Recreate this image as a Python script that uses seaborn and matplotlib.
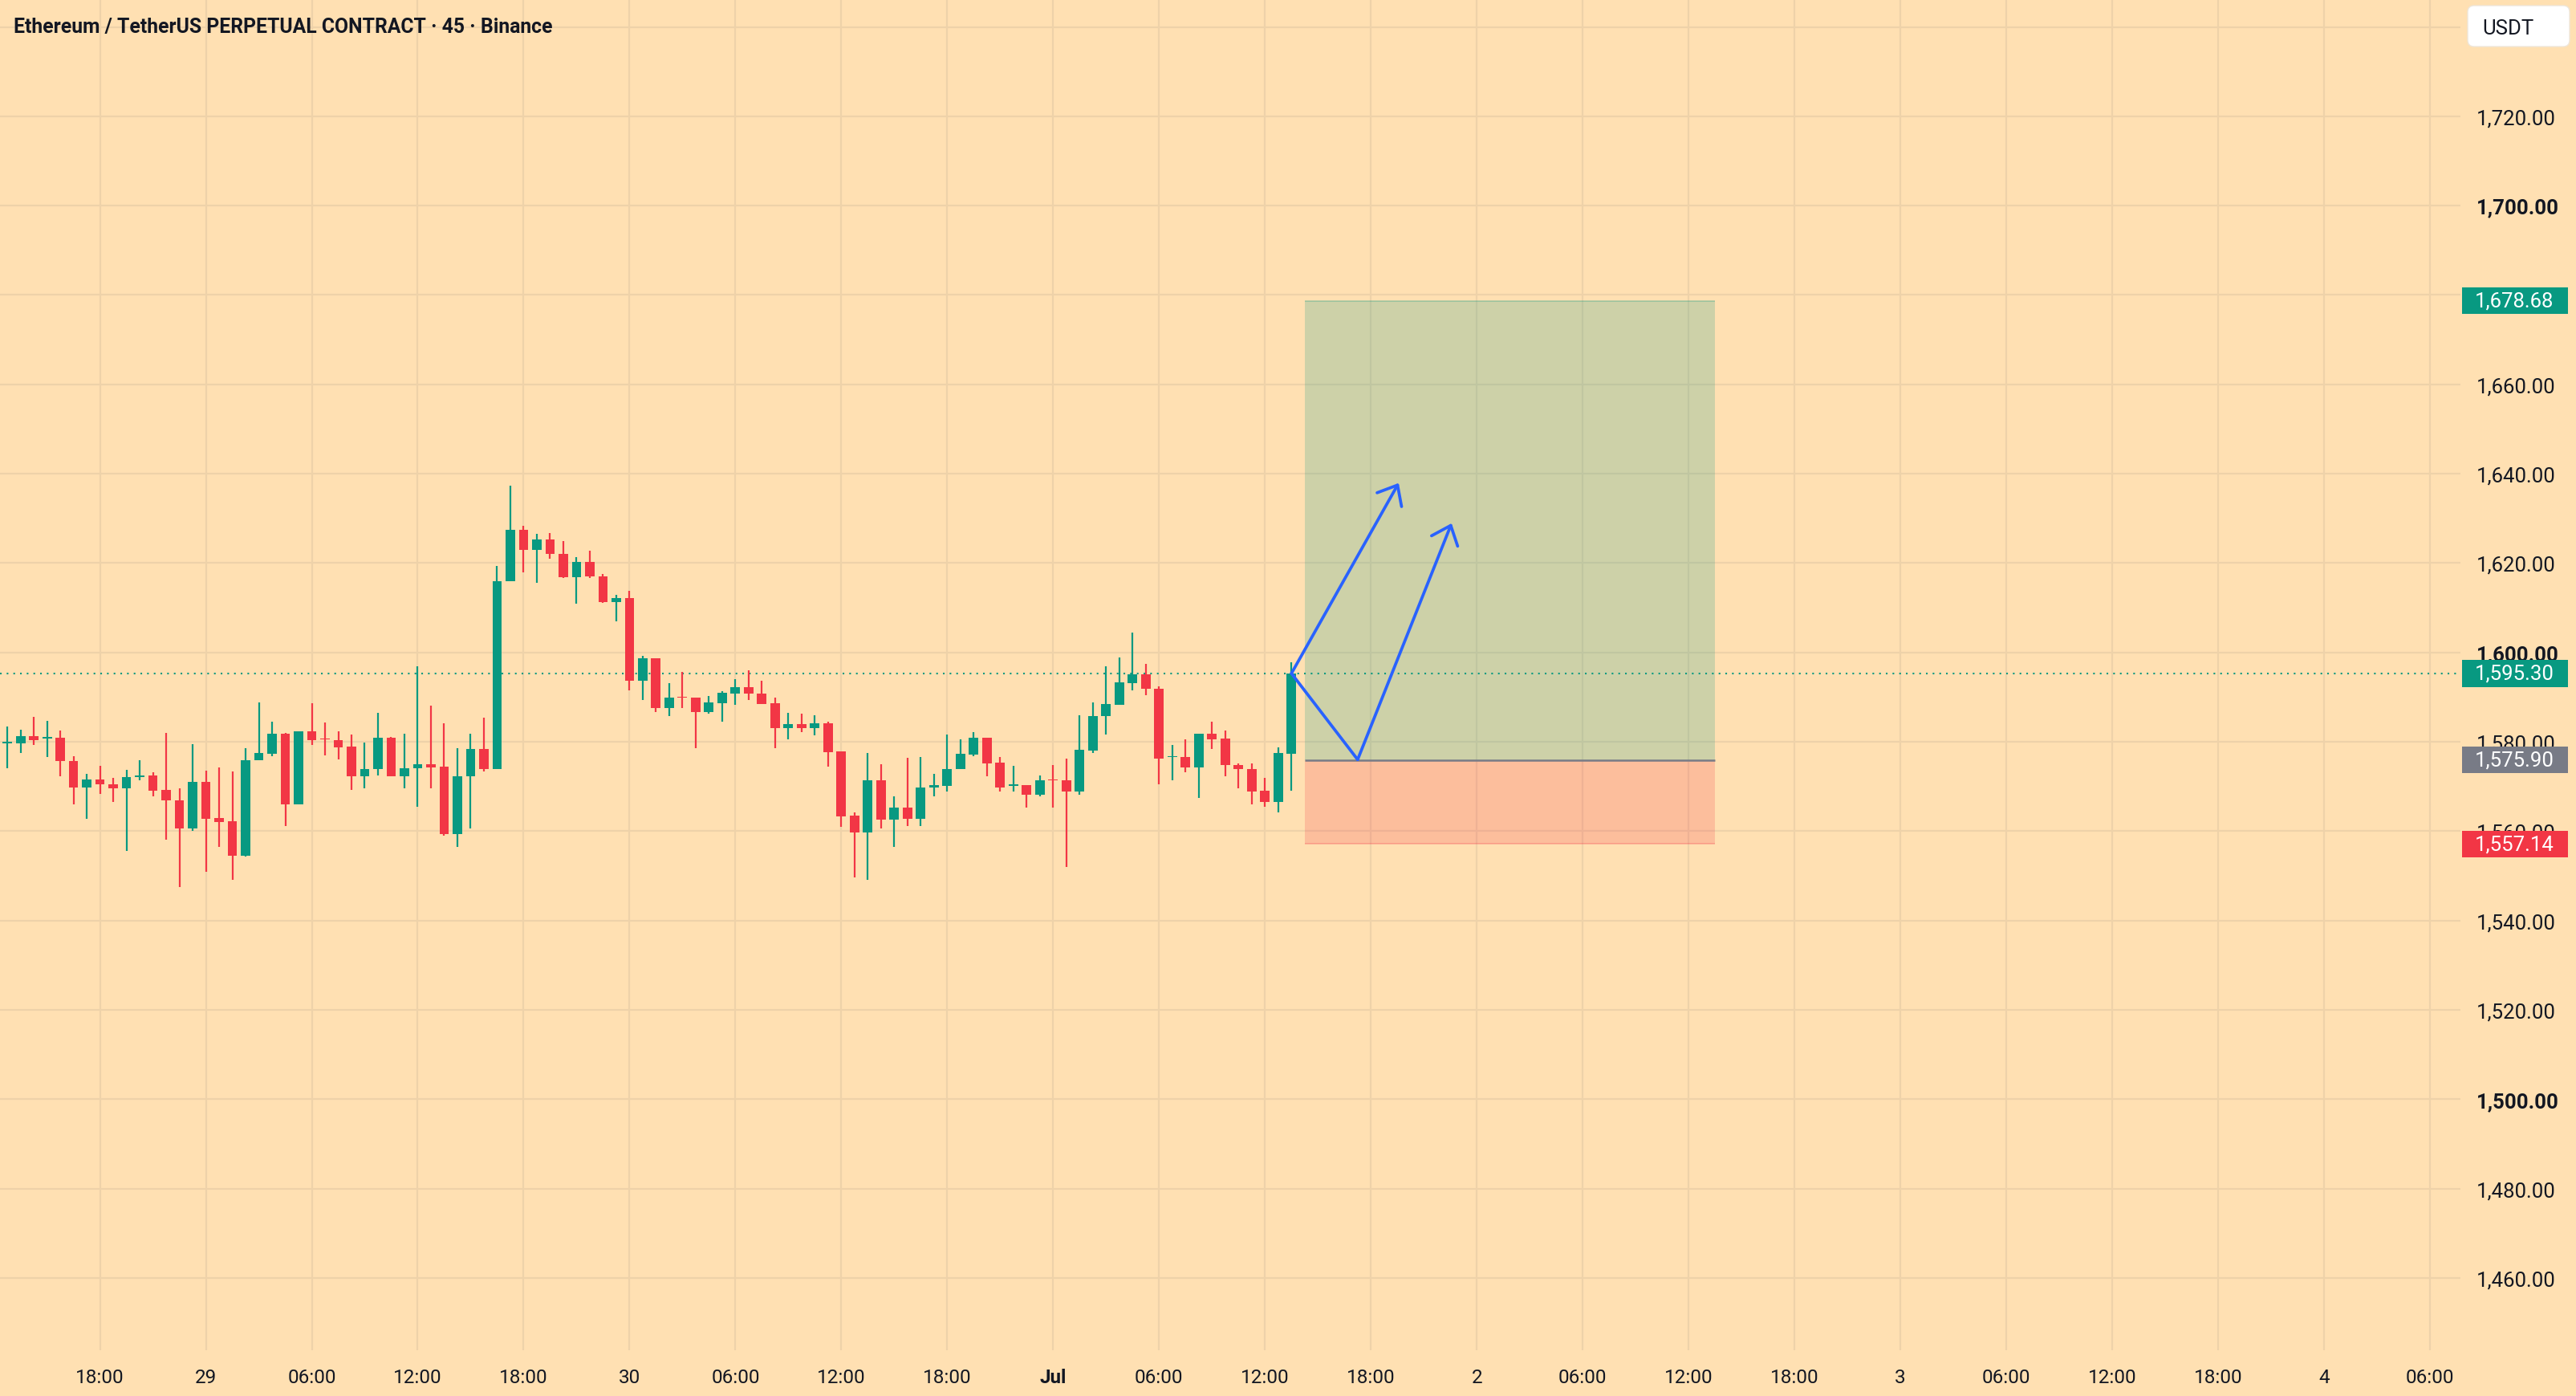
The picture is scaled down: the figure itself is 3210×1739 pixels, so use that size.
"""ETHUSDT perpetual, 45 minute candles with a long position drawn on top."""

import matplotlib

matplotlib.use("Agg")

import matplotlib.pyplot as plt
import matplotlib.transforms as mtransforms
import numpy as np
import pandas as pd
import seaborn as sns
from matplotlib.patches import FancyBboxPatch, Rectangle

TITLE = "Ethereum / TetherUS PERPETUAL CONTRACT · 45 · Binance"
START = "2023-06-28 12:45"

opens = [
    1579.7, 1579.7, 1581.3, 1580.8, 1580.9, 1575.7, 1569.8, 1571.6, 1570.5, 1569.5,
    1572.1, 1572.5, 1569.2, 1566.9, 1560.6, 1571.0, 1562.9, 1562.2, 1554.5, 1575.8,
    1577.3, 1581.8, 1566.0, 1582.4, 1580.7, 1580.4, 1578.9, 1572.2, 1573.8, 1580.9,
    1572.2, 1574.0, 1575.0, 1574.4, 1559.3, 1572.2, 1578.4, 1573.9, 1615.9, 1627.5,
    1622.9, 1625.2, 1622.1, 1616.8, 1620.2, 1617.1, 1611.2, 1612.2, 1593.6, 1598.7,
    1587.5, 1590.1, 1589.9, 1586.7, 1588.7, 1590.8, 1592.3, 1590.8, 1588.7, 1583.1,
    1584.0, 1583.0, 1584.2, 1577.9, 1563.5, 1559.7, 1571.4, 1562.6, 1565.3, 1562.8,
    1569.8, 1570.2, 1573.8, 1577.1, 1580.9, 1575.3, 1570.2, 1570.3, 1568.2, 1571.6,
    1571.4, 1568.9, 1578.0, 1585.7, 1588.3, 1593.2, 1595.1, 1591.9, 1576.5, 1576.6,
    1574.3, 1581.8, 1580.7, 1574.8, 1573.9, 1569.0, 1566.6, 1577.3,
]
highs = [
    1583.4, 1582.7, 1585.6, 1584.7, 1582.5, 1576.8, 1572.8, 1574.6, 1571.9, 1573.7,
    1575.9, 1573.2, 1582.0, 1569.6, 1579.5, 1573.5, 1574.3, 1573.4, 1578.6, 1588.8,
    1584.5, 1582.0, 1582.4, 1588.7, 1584.3, 1582.4, 1581.6, 1579.8, 1586.5, 1581.1,
    1581.8, 1596.9, 1588.1, 1584.2, 1578.6, 1581.8, 1585.4, 1619.3, 1637.3, 1628.3,
    1626.6, 1626.8, 1625.0, 1621.4, 1622.7, 1617.6, 1612.8, 1613.7, 1599.3, 1598.7,
    1593.2, 1595.7, 1589.9, 1590.3, 1591.4, 1594.1, 1595.9, 1593.7, 1589.9, 1586.5,
    1586.3, 1586.0, 1584.5, 1577.9, 1564.2, 1577.5, 1575.0, 1567.8, 1576.4, 1576.6,
    1572.8, 1581.6, 1580.6, 1582.2, 1580.9, 1576.6, 1574.6, 1570.3, 1572.5, 1574.8,
    1576.2, 1586.0, 1588.8, 1596.9, 1598.9, 1604.5, 1597.5, 1592.4, 1579.3, 1580.6,
    1581.8, 1584.5, 1582.5, 1575.2, 1575.2, 1571.9, 1578.8, 1597.7,
]
lows = [
    1574.0, 1577.4, 1579.2, 1576.5, 1572.3, 1565.9, 1562.8, 1568.4, 1566.6, 1555.6,
    1571.3, 1567.7, 1558.1, 1547.5, 1560.1, 1550.9, 1556.5, 1549.1, 1554.3, 1575.8,
    1576.8, 1561.2, 1566.0, 1579.2, 1577.0, 1576.1, 1569.3, 1569.6, 1572.5, 1572.2,
    1569.5, 1565.5, 1569.5, 1559.0, 1556.5, 1560.6, 1573.4, 1573.9, 1615.9, 1617.9,
    1615.5, 1620.9, 1616.6, 1610.9, 1616.6, 1611.0, 1606.9, 1591.5, 1589.3, 1586.6,
    1585.7, 1587.6, 1578.6, 1586.2, 1584.4, 1588.2, 1589.3, 1588.4, 1578.5, 1580.6,
    1582.2, 1581.5, 1574.5, 1561.0, 1549.7, 1549.1, 1560.6, 1556.5, 1561.2, 1561.2,
    1567.8, 1568.9, 1573.8, 1576.7, 1572.3, 1568.9, 1568.9, 1565.3, 1567.7, 1565.3,
    1552.0, 1568.2, 1577.5, 1581.6, 1588.2, 1591.5, 1590.5, 1570.5, 1571.4, 1573.2,
    1567.5, 1578.3, 1572.2, 1569.6, 1566.0, 1565.5, 1564.2, 1569.1,
]
closes = [
    1580.0, 1581.3, 1580.4, 1581.0, 1575.6, 1569.8, 1571.6, 1570.4, 1569.5, 1572.1,
    1572.5, 1569.1, 1566.8, 1560.6, 1571.0, 1562.8, 1562.1, 1554.5, 1575.9, 1577.5,
    1581.8, 1566.0, 1582.4, 1580.4, 1580.5, 1578.8, 1572.2, 1573.9, 1580.9, 1572.2,
    1574.1, 1575.0, 1574.3, 1559.3, 1572.3, 1578.4, 1573.9, 1616.0, 1627.4, 1622.9,
    1625.2, 1622.0, 1616.8, 1620.2, 1617.0, 1611.2, 1612.2, 1593.6, 1598.7, 1587.5,
    1589.9, 1589.8, 1586.7, 1588.8, 1591.0, 1592.3, 1590.7, 1588.5, 1583.1, 1584.0,
    1583.0, 1584.2, 1577.7, 1563.3, 1559.7, 1571.4, 1562.6, 1565.3, 1562.8, 1569.8,
    1570.3, 1573.9, 1577.3, 1580.9, 1575.2, 1569.8, 1570.5, 1568.2, 1571.4, 1571.3,
    1568.9, 1578.2, 1585.8, 1588.5, 1593.3, 1595.1, 1591.8, 1576.3, 1576.8, 1574.3,
    1581.8, 1580.6, 1574.7, 1573.8, 1568.9, 1566.6, 1577.5, 1595.3,
]

# long position tool
last_price = 1595.30
entry_price = 1575.90
target_price = 1678.68
stop_price = 1557.14
box_start, box_end = 98, 129

# hand drawn arrows (bar index, price)
arrow1_x = [97.0, 105.1]
arrow1_y = [1595.3, 1637.9]
arrow2_x = [97.0, 102.0, 109.1]
arrow2_y = [1595.3, 1576.0, 1628.9]

tick_times = pd.date_range("2023-06-28 18:00", "2023-07-04 06:00", freq="6h")
price_ticks = np.arange(1460, 1741, 20)
bold_prices = [1500, 1600, 1700]

UP = "#089981"
DOWN = "#F23645"
BG = "#FFE0B2"
GRID = "#EED2A9"
TEXT = "#131722"
BLUE = "#2962FF"
GREY = "#787B86"

sns.set_style("white", {"axes.facecolor": BG, "figure.facecolor": BG})
plt.rcParams["font.family"] = ["Roboto", "DejaVu Sans"]

W, H, DPI = 3210, 1740, 100
fig = plt.figure(figsize=(W / DPI, H / DPI), dpi=DPI)
ax = fig.add_axes([0, 1 - 1683 / H, 3066 / W, 1683 / H])

df = pd.DataFrame({"open": opens, "high": highs, "low": lows, "close": closes})
df["x"] = np.arange(len(df))
df["color"] = np.where(df["close"] >= df["open"], UP, DOWN)

ax.vlines(df["x"], df["low"], df["high"], colors=df["color"], lw=1.6, zorder=3)
body_low = df[["open", "close"]].min(axis=1)
body_h = (df["close"] - df["open"]).abs().clip(lower=0.3)
ax.bar(df["x"], body_h, bottom=body_low, width=0.72, color=df["color"], lw=0, zorder=4)

# position box
ax.fill_between([box_start, box_end], entry_price, target_price, color=UP, alpha=0.2, lw=0, zorder=2)
ax.fill_between([box_start, box_end], stop_price, entry_price, color=DOWN, alpha=0.2, lw=0, zorder=2)
ax.hlines(target_price, box_start, box_end, color=UP, alpha=0.3, lw=1.2, zorder=2)
ax.hlines(stop_price, box_start, box_end, color=DOWN, alpha=0.3, lw=1.2, zorder=2)
ax.hlines(entry_price, box_start, box_end, color=GREY, lw=1.8, zorder=2)

ax.axhline(last_price, color=UP, lw=1.5, ls=(0, (1, 3)), zorder=2)

arrow_props = dict(arrowstyle="->,head_length=0.5,head_width=0.42", color=BLUE, lw=2.7,
                   mutation_scale=30, shrinkA=0, shrinkB=0, capstyle="round")
ax.plot(arrow2_x[:2], arrow2_y[:2], color=BLUE, lw=2.7, solid_capstyle="round", zorder=6)
ax.annotate("", xy=(arrow1_x[1], arrow1_y[1]), xytext=(arrow1_x[0], arrow1_y[0]),
            arrowprops=arrow_props, zorder=6)
ax.annotate("", xy=(arrow2_x[2], arrow2_y[2]), xytext=(arrow2_x[1], arrow2_y[1]),
            arrowprops=arrow_props, zorder=6)

# axes, ticks, grid
t0 = pd.Timestamp(START)
tick_pos = (tick_times - t0) / pd.Timedelta(minutes=45)
tick_lbl = []
for t in tick_times:
    if t.hour == 0:
        tick_lbl.append("Jul" if t.day == 1 else str(t.day))
    else:
        tick_lbl.append(t.strftime("%H:%M"))

ax.set_xlim(-0.55, 185.3)
ax.set_ylim(1443.8, 1746.2)
ax.set_xticks(tick_pos, tick_lbl)
ax.yaxis.tick_right()
ax.set_yticks(price_ticks, [f"{p:,.2f}" if p < 1740 else "" for p in price_ticks])
ax.tick_params(axis="x", length=0, pad=16, labelsize=17.5, labelcolor=TEXT)
ax.tick_params(axis="y", length=0, pad=14, labelsize=18.5, labelcolor=TEXT)
for lbl in ax.get_xticklabels():
    if lbl.get_text() == "Jul":
        lbl.set_fontweight("bold")
for lbl in ax.get_yticklabels():
    if lbl.get_text() in [f"{p:,.2f}" for p in bold_prices]:
        lbl.set_fontweight("bold")
ax.grid(True, color=GRID, lw=1.6, zorder=0)
ax.set_axisbelow(True)
sns.despine(ax=ax, left=True, bottom=True, right=True, top=True)

# price tags on the scale
tag_trans = mtransforms.blended_transform_factory(fig.transFigure, ax.transData)
for price, color in [(target_price, UP), (last_price, UP), (entry_price, GREY), (stop_price, DOWN)]:
    ax.add_patch(Rectangle((3068 / W, price - 3.0), 132 / W, 6.0, transform=tag_trans,
                           facecolor=color, edgecolor="none", clip_on=False, zorder=10))
    ax.text(3084 / W, price, f"{price:,.2f}", transform=tag_trans, color="white",
            fontsize=18.5, va="center", ha="left", clip_on=False, zorder=11)

fig.add_artist(FancyBboxPatch((3075 / DPI, (H - 59) / DPI), 127 / DPI, 51 / DPI,
                              boxstyle="round,pad=0,rounding_size=0.08",
                              transform=fig.dpi_scale_trans, facecolor="white",
                              edgecolor="#EEE6DA", lw=1))
fig.text(3093 / W, 1 - 43 / H, "USDT", fontsize=18.5, color=TEXT, va="baseline", ha="left")

fig.text(17 / W, 1 - 41 / H, TITLE, fontsize=17.8, fontweight="bold", color=TEXT,
         va="baseline", ha="left")

fig.savefig("out.png", dpi=DPI, facecolor=BG)
